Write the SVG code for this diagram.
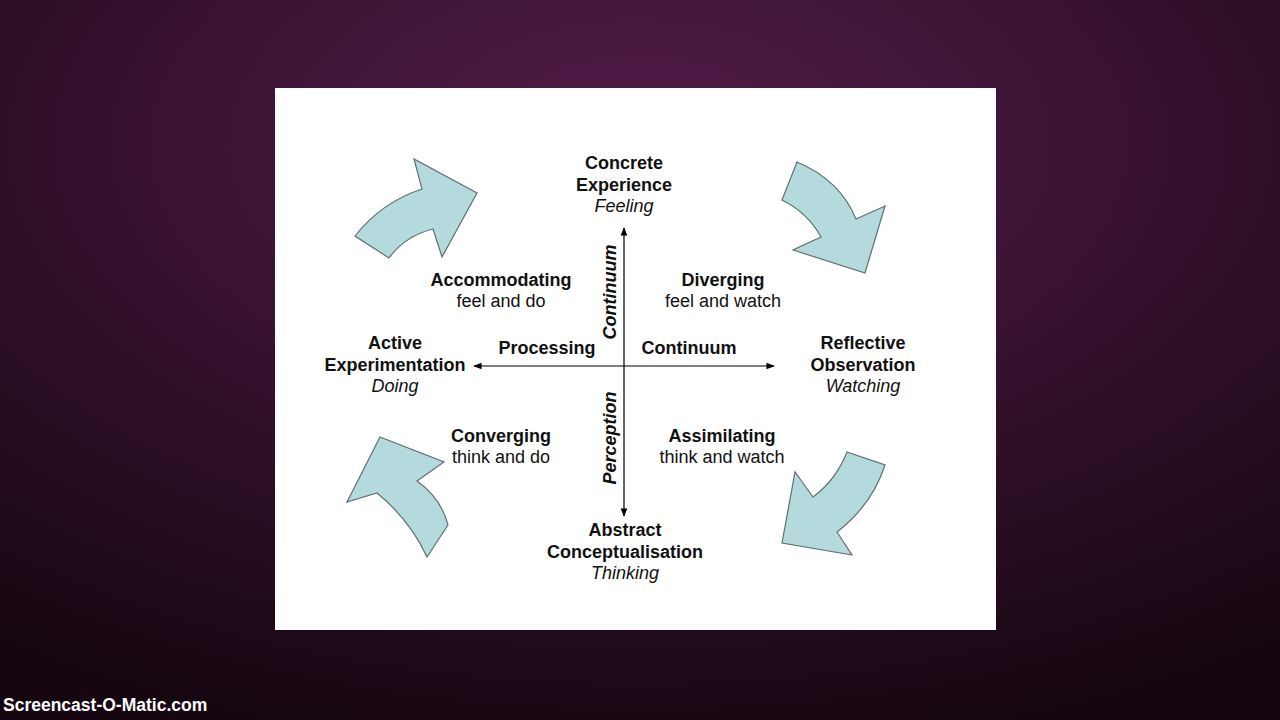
<svg xmlns="http://www.w3.org/2000/svg" width="1280" height="720" viewBox="0 0 1280 720">
<defs>
<radialGradient id="bg" cx="0.5" cy="0.2" r="0.85">
<stop offset="0" stop-color="#531c4b"/>
<stop offset="0.5" stop-color="#35112d"/>
<stop offset="1" stop-color="#150610"/>
</radialGradient>
<marker id="ah" viewBox="0 0 10 10" refX="9" refY="5" markerWidth="7" markerHeight="7" orient="auto-start-reverse">
<path d="M0,1 L10,5 L0,9 Z" fill="#000"/>
</marker>
<style>
.t{font-family:"Liberation Sans",Arial,sans-serif;font-size:18px;fill:#111;text-anchor:middle}
.b{font-weight:bold}
.i{font-style:italic}
.arr{fill:#b5dade;stroke:#5f7070;stroke-width:1.2;stroke-linejoin:miter}
.ax{stroke:#000;stroke-width:1.2;fill:none}
</style>
</defs>
<rect width="1280" height="720" fill="url(#bg)"/>
<rect x="275" y="88" width="721" height="542" fill="#fff"/>

<g id="connectors">
<line class="ax" x1="624" y1="366" x2="624" y2="228" marker-end="url(#ah)"/>
<line class="ax" x1="624" y1="366" x2="624" y2="516" marker-end="url(#ah)"/>
<line class="ax" x1="624" y1="366" x2="474" y2="366" marker-end="url(#ah)"/>
<line class="ax" x1="624" y1="366" x2="774" y2="366" marker-end="url(#ah)"/>
</g>

<g id="cycle-arrows">
<path id="arrow-tl" class="arr" d="M355,236 Q382,202 422,189 L414,159 L477,193 L442,257 L433,229 Q405,236 389,258 Z"/>
<path id="arrow-tr" class="arr" d="M797,162 Q840,180 856,219 L885,206 L865,273 L793,250 L821,237 Q808,213 782,200 Z"/>
<path id="arrow-br" class="arr" d="M847,452 L885,465 Q872,505 837,532 L852,555 L782,543 L795,472 L813,497 Q836,480 847,452 Z"/>
<path id="arrow-bl" class="arr" d="M380,437 L444,462 L417,481 Q441,498 448,525 L427,557 Q410,520 377,493 L347,502 Z"/>
</g>

<g id="concrete">
<text class="t b" x="624" y="169">Concrete</text>
<text class="t b" x="624" y="191">Experience</text>
<text class="t i" x="624" y="212">Feeling</text>
</g>
<g id="accommodating">
<text class="t b" x="501" y="286">Accommodating</text>
<text class="t" x="501" y="307">feel and do</text>
</g>
<g id="diverging">
<text class="t b" x="723" y="286">Diverging</text>
<text class="t" x="723" y="307">feel and watch</text>
</g>
<g id="active">
<text class="t b" x="395" y="349">Active</text>
<text class="t b" x="395" y="371">Experimentation</text>
<text class="t i" x="395" y="392">Doing</text>
</g>
<g id="reflective">
<text class="t b" x="863" y="349">Reflective</text>
<text class="t b" x="863" y="371">Observation</text>
<text class="t i" x="863" y="392">Watching</text>
</g>
<g id="processing-label">
<text class="t b" x="547" y="354">Processing</text>
<text class="t b" x="689" y="354">Continuum</text>
</g>
<g id="perception-label">
<text class="t b i" x="0" y="0" transform="translate(616,292) rotate(-90)">Continuum</text>
<text class="t b i" x="0" y="0" transform="translate(616,438) rotate(-90)">Perception</text>
</g>
<g id="converging">
<text class="t b" x="501" y="442">Converging</text>
<text class="t" x="501" y="463">think and do</text>
</g>
<g id="assimilating">
<text class="t b" x="722" y="442">Assimilating</text>
<text class="t" x="722" y="463">think and watch</text>
</g>
<g id="abstract">
<text class="t b" x="625" y="536">Abstract</text>
<text class="t b" x="625" y="558">Conceptualisation</text>
<text class="t i" x="625" y="579">Thinking</text>
</g>
<text x="3" y="711" style="font-family:'Liberation Sans',Arial,sans-serif;font-size:17.5px;font-weight:bold;fill:#fff">Screencast-O-Matic.com</text>
</svg>
